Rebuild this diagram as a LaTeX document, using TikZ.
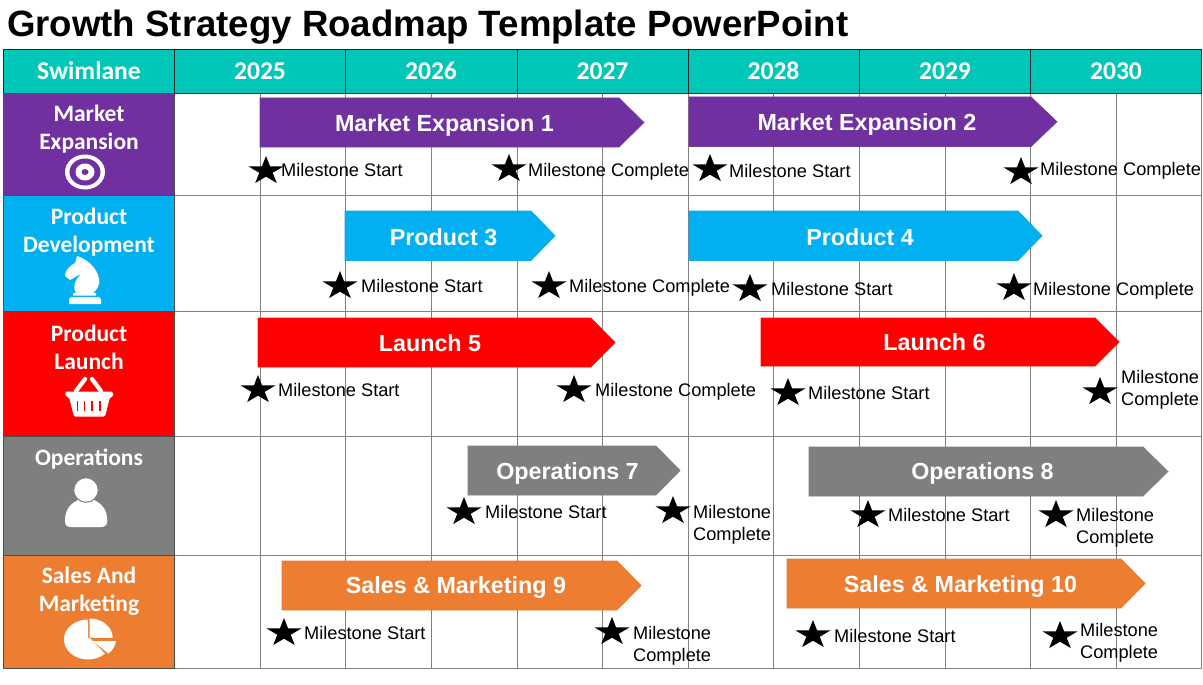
\documentclass[tikz,border=0pt]{standalone}
\usepackage{fontspec}
\setmainfont{Liberation Sans}
\newfontfamily\carl{Carlito}[Scale=1]
\definecolor{teal1}{HTML}{00C7B7}
\definecolor{purp}{HTML}{7030A0}
\definecolor{blu}{HTML}{00B0F0}
\definecolor{redd}{HTML}{FF0000}
\definecolor{gry}{HTML}{7F7F7F}
\definecolor{org}{HTML}{ED7D31}
\definecolor{gridc}{HTML}{808080}
\tikzset{
  gridline/.style={draw=gridc,line width=0.9pt},
  heada/.style={text=white,font=\carl\bfseries\fontsize{25.6}{28}\selectfont,inner sep=0pt,text height=16pt,text depth=0pt},
  lanelab/.style={text=white,font=\carl\bfseries\fontsize{23.5}{28}\selectfont,inner sep=0pt,align=center},
  barlab/.style={text=white,font=\bfseries\fontsize{23.3}{28}\selectfont,inner sep=0pt},
  mlab/.style={text=black,font=\fontsize{18.2}{22}\selectfont,inner sep=0pt,anchor=west,align=left},
  starmark/.pic={\fill[black] (0,-15)--(4.1,-4.6)--(17.5,-4.6)--(6.7,1.8)--(10.8,12)--(0,5.7)--(-10.8,12)--(-6.7,1.8)--(-17.5,-4.6)--(-4.1,-4.6)--cycle;}
}
\newcommand{\roadbar}[9]{% x1 x2 head y1 y2 colour tx ty text
  \draw[fill=#6,draw=#6!85!gray,line width=0.7pt] (#1,#4)--(#3,#4)--(#2,{(#4+#5)/2})--(#3,#5)--(#1,#5)--cycle;
  \node[barlab] (bar#1) at (#7,#8) {#9};
}
\newcommand{\mstone}[5]{% sx sy tx ty text
  \pic at (#1,#2) {starmark};
  \node[mlab] (m#1) at (#3,#4) {#5};
}
\begin{document}
\begin{tikzpicture}[x=1pt,y=-1pt]
\useasboundingbox (0,0) rectangle (1203,685);
\fill[white] (0,0) rectangle (1203,685);
\node[anchor=base west,inner sep=0pt,font=\bfseries\fontsize{36.6}{40}\selectfont] (title) at (7,37) {Growth Strategy Roadmap Template PowerPoint};
% grid
\foreach \x in {260,345.7,431,517,602,688,773,859,945,1030.5,1116,1201.6}
  \draw[gridline] (\x,93.5)--(\x,668);
\foreach \y in {195,311,436.5,555,668}
  \draw[gridline] (174.5,\y)--(1201.6,\y);
% header
\draw[fill=teal1,draw=black!85,line width=1pt] (3,49.5) rectangle (1201.6,93.5);
\foreach \x in {174.5,345.7,517,688,859,1030.5}
  \draw[black!85,line width=1pt] (\x,49.5)--(\x,93.5);
\node[heada] (h0) at (89,71.5) {Swimlane};
\node[heada] (h1) at (260,71.5) {2025};
\node[heada] (h2) at (431,71.5) {2026};
\node[heada] (h3) at (602.5,71.5) {2027};
\node[heada] (h4) at (773.5,71.5) {2028};
\node[heada] (h5) at (945,71.5) {2029};
\node[heada] (h6) at (1116,71.5) {2030};
% lanes
\draw[fill=purp,draw=black!70,line width=0.8pt] (3,93.5) rectangle (174.5,195);
\draw[fill=blu,draw=black!70,line width=0.8pt] (3,195) rectangle (174.5,311);
\draw[fill=redd,draw=black!70,line width=0.8pt] (3,311) rectangle (174.5,436.5);
\draw[fill=gry,draw=black!70,line width=0.8pt] (3,436.5) rectangle (174.5,555);
\draw[fill=org,draw=black!70,line width=0.8pt] (3,555) rectangle (174.5,668);
\node[lanelab] (l1) at (89,129) {Market\\Expansion};
\node[lanelab] (l2) at (89,232) {Product\\Development};
\node[lanelab] (l3) at (89,347.5) {Product\\Launch};
\node[lanelab] (l4) at (89,459) {Operations};
\node[lanelab] (l5) at (89,591) {Sales And\\Marketing};
% target
\fill[white] (85,172) ellipse [x radius=20pt,y radius=17.5pt];
\fill[purp] (85,172) ellipse [x radius=15.5pt,y radius=13.5pt];
\fill[white] (85,172) ellipse [x radius=9.5pt,y radius=8.5pt];
\fill[purp] (85,172) ellipse [x radius=3.5pt,y radius=3pt];
% knight
\fill[white] (77,256) .. controls (90,260) and (100,272) .. (99.3,283) .. controls (98,289) and (95,291) .. (93,293) -- (96,293) -- (96,295.5) -- (73,295.5) -- (73,293) -- (76,293) .. controls (72,287) and (75,280) .. (81,274) .. controls (78,275) and (74,278) .. (70,280) -- (65,276) .. controls (65,271) and (69,266) .. (75,263) -- cycle;
\fill[white] (71,297) -- (99,297) -- (101,299) -- (101,304) -- (69,304) -- (69,299) -- cycle;
% basket
\draw[white,line width=4.2pt,line cap=round] (76,391)--(85,379);
\draw[white,line width=4.2pt,line cap=round] (92,379)--(101,391);
\fill[white,rounded corners=1.5pt] (65,391.5)--(113,391.5)--(113,397)--(110,397)--(105,416.7)--(74,416.7)--(69,397)--(66,397)--cycle;
\foreach \x in {77.5,84.5,92,100}
  \draw[redd,line width=1.8pt] (\x,401)--(\x,411);
% person
\fill[white] (71,527) .. controls (67,527) and (65,525) .. (65,521) .. controls (65,508) and (72,503) .. (78,500) -- (94,500) .. controls (100,503) and (107.3,508) .. (107.3,521) .. controls (107.3,525) and (105,527) .. (101,527) -- cycle;
\draw[fill=white,draw=gry,line width=1pt] (86,490) circle (12.3pt);
% pie
\fill[white] (88,619.5) arc[start angle=90,end angle=315,x radius=24pt,y radius=20pt] -- (90,638) -- (88,638) -- cycle;
\fill[white] (89.7,618.5) arc[start angle=90,end angle=0,x radius=23pt,y radius=19.5pt] -- (89.7,637.7) -- cycle;
\fill[white] (92.5,641) -- (116,641) .. controls (115.5,646) and (112,651) .. (108.5,653.5) -- cycle;
% bars
\roadbar{260}{644}{619}{98}{147}{purp}{444.5}{125}{Market Expansion 1}
\roadbar{689}{1057}{1031}{97}{146.5}{purp}{867}{124}{Market Expansion 2}
\roadbar{345}{555}{531}{211}{260.5}{blu}{443.5}{237}{Product 3}
\roadbar{689}{1042}{1018}{211}{260.5}{blu}{860}{237}{Product 4}
\roadbar{258}{615}{591}{318}{367}{redd}{430}{343}{Launch 5}
\roadbar{761}{1119}{1095}{318}{366}{redd}{934.5}{342}{Launch 6}
\roadbar{468}{680}{656}{446}{495}{gry}{567.5}{473}{Operations 7}
\roadbar{809}{1168}{1143}{447}{496}{gry}{982.5}{473}{Operations 8}
\roadbar{282}{641}{617}{561}{610}{org}{456}{588}{Sales \& Marketing 9}
\roadbar{787}{1145}{1121}{559}{608}{org}{960.5}{587}{Sales \& Marketing 10}
% milestones
\mstone{266}{171}{281}{170}{Milestone Start}
\mstone{509}{169}{528}{172}{Milestone Complete}
\mstone{710}{169}{729}{171}{Milestone Start}
\mstone{1021}{172}{1040}{171}{Milestone Complete}
\mstone{340}{286}{361}{286}{Milestone Start}
\mstone{549}{286}{569}{288}{Milestone Complete}
\mstone{750}{289}{771}{289}{Milestone Start}
\mstone{1014}{288}{1033}{291}{Milestone Complete}
\mstone{258}{390}{278}{390}{Milestone Start}
\mstone{574}{390}{595}{392}{Milestone Complete}
\mstone{788}{393}{808}{393}{Milestone Start}
\mstone{1100}{392}{1121}{390}{Milestone\\Complete}
\mstone{464}{512}{485}{512}{Milestone Start}
\mstone{673}{511}{693}{525}{Milestone\\Complete}
\mstone{868}{515}{888}{515}{Milestone Start}
\mstone{1056}{515}{1076}{528}{Milestone\\Complete}
\mstone{284}{633}{304}{633}{Milestone Start}
\mstone{612}{632}{633}{646}{Milestone\\Complete}
\mstone{813}{635}{834}{636}{Milestone Start}
\mstone{1060}{636}{1080}{643}{Milestone\\Complete}
\end{tikzpicture}
\end{document}
